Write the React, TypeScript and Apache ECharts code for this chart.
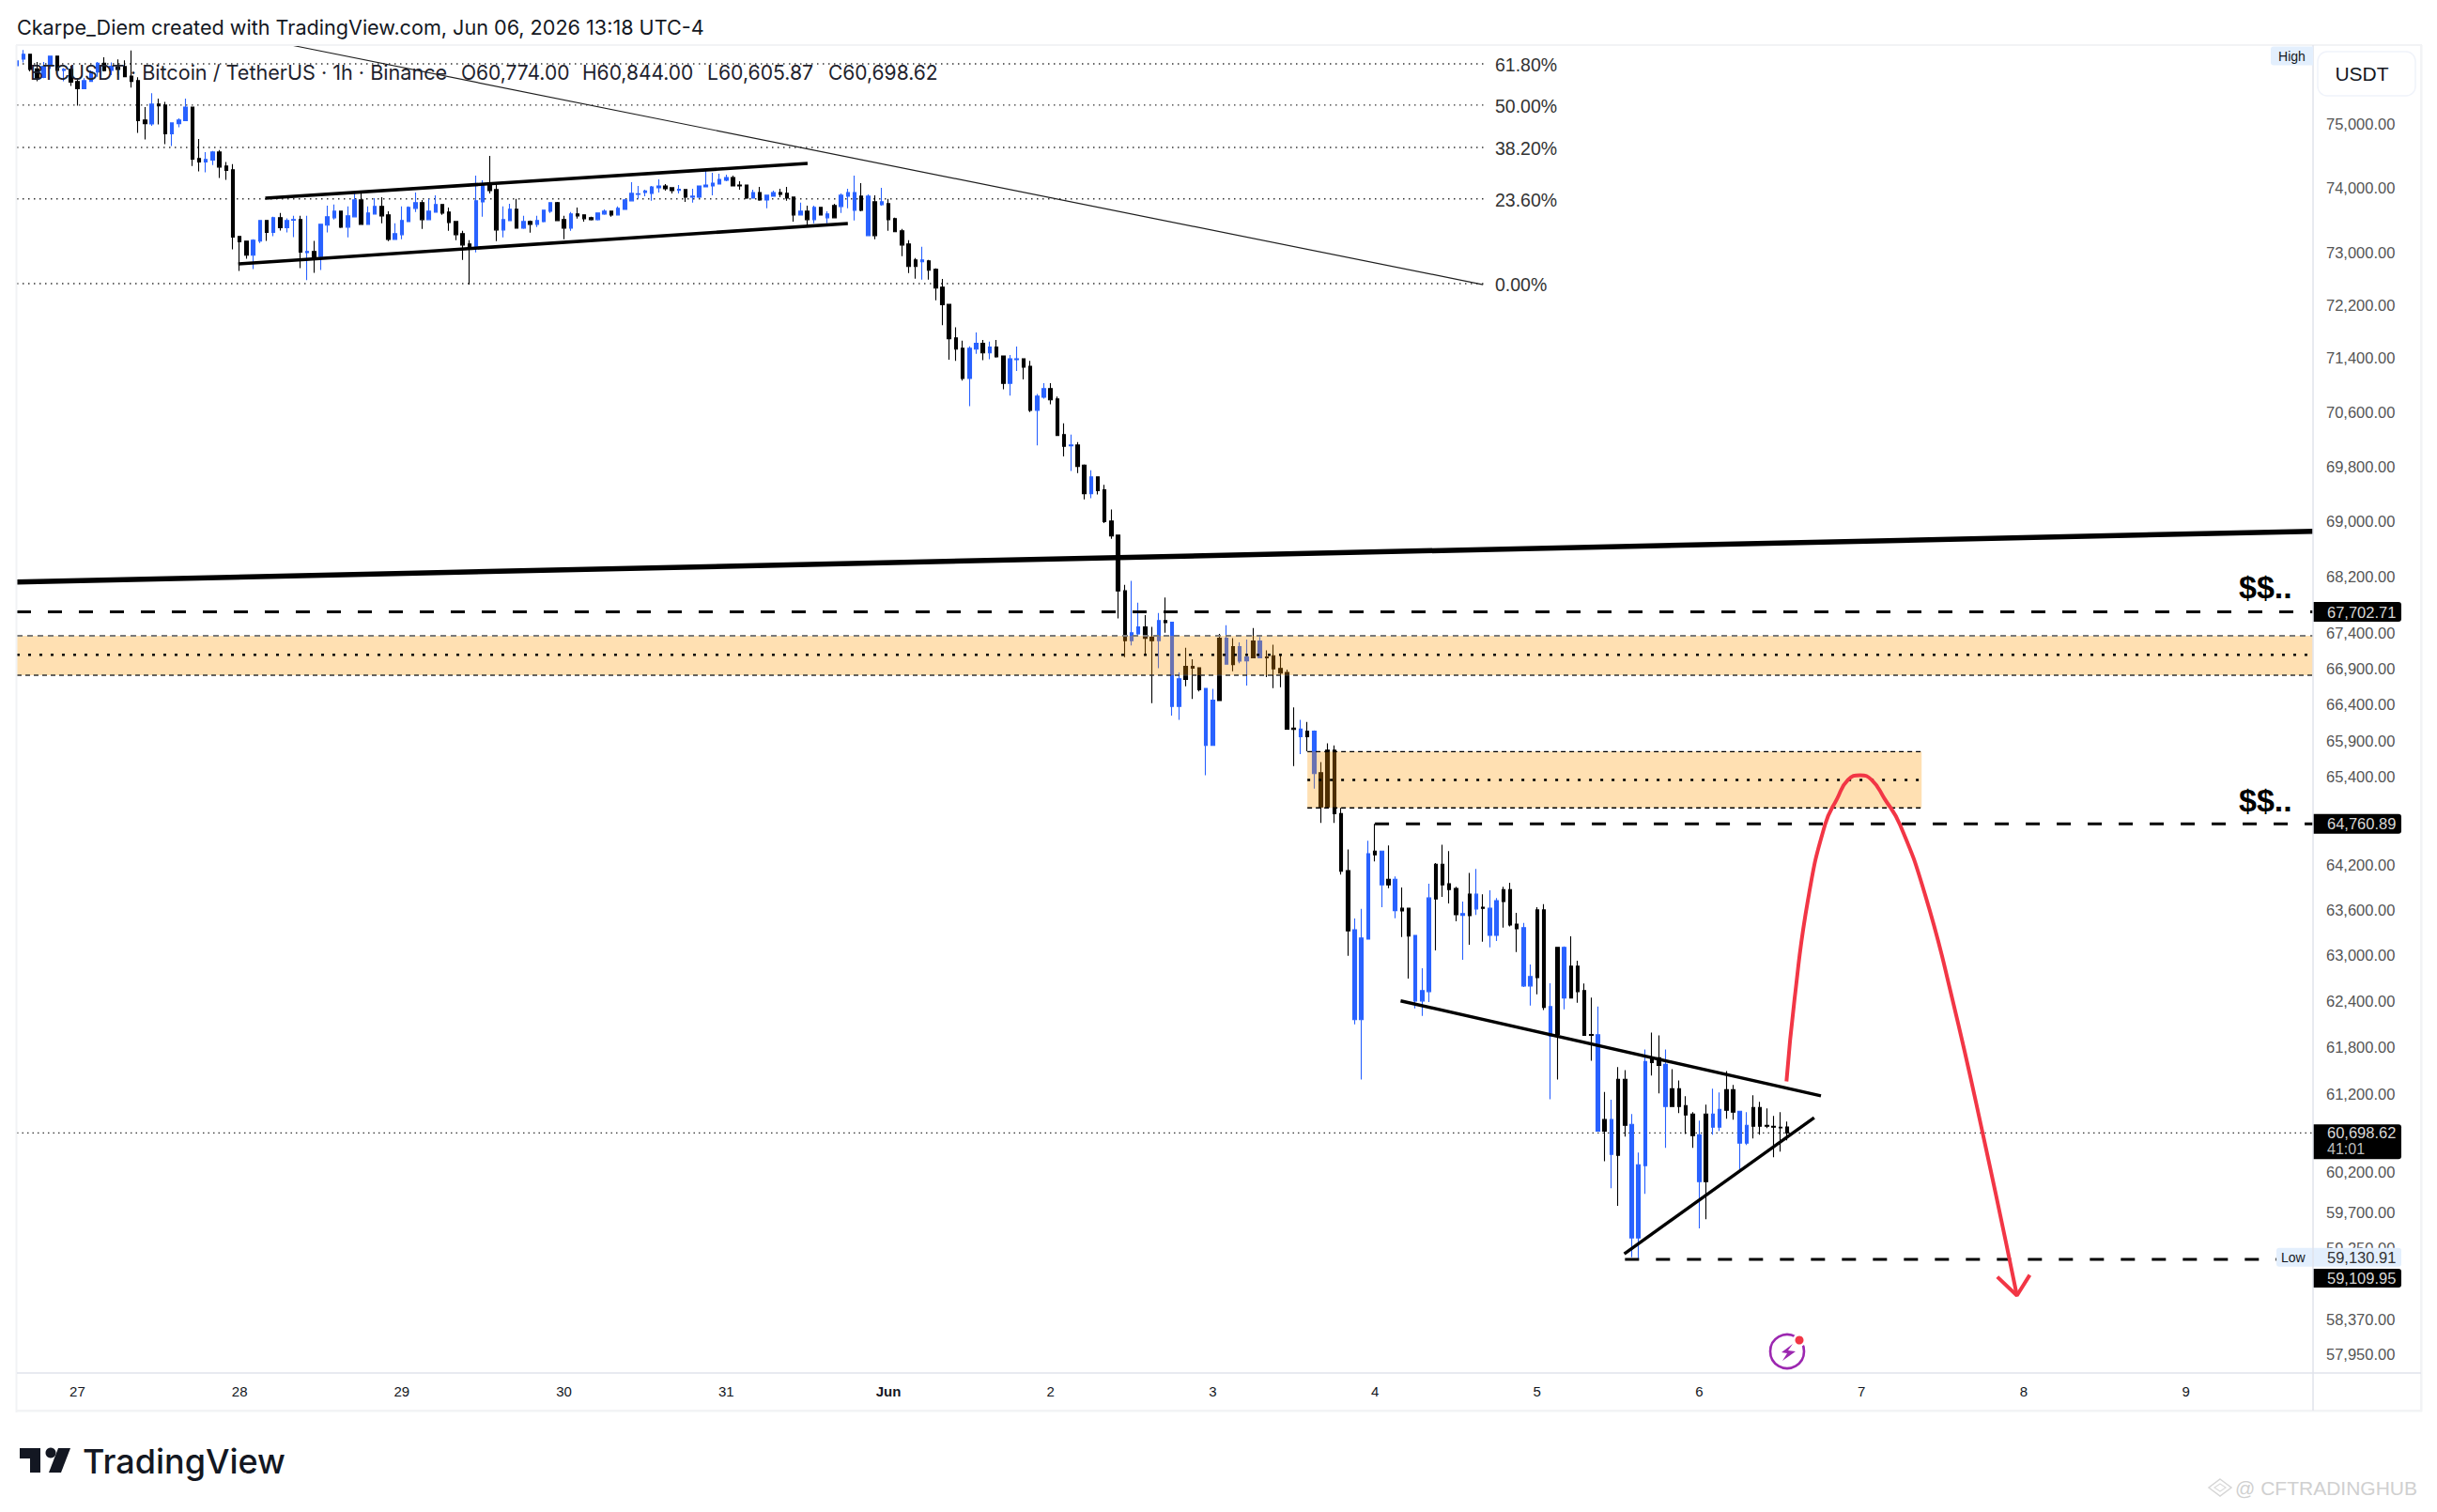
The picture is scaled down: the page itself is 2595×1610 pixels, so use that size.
import React, { useEffect, useRef } from "react";
import * as echarts from "echarts";

// ---------- candle data (USDT, hourly) ----------
const directions =
  "BBKKBBKBKKBBBKBKKKKKBKKBBBKKBBKKKKKBBKBKBBKBK" +
  "BBBKBBKBBKKBBBBKBBKKKKKBBKKBBKBKBBBKKBKKKBBKBBBB" +
  "BBBKKBKBBBBBBKKKBKBBKKKBKBKBKBBBKBKBKKKKKBKK" +
  "KKKKBBKBKKBBKKBBKKKBKKBKKKKKBBKKBKBBKKKBBKBKBBKBKKKKKBKBKK" +
  "KKKBBBKBKBKKBBBKKKKBKBKBBKKKBBKKBKBKKKKBK" +
  "BKKBBBKKBKKKKBKBBKKBBKKKK"
    .replace(/\s/g, "");

const highs = [
  76025,76164,76095,75975,75975,76075,76075,75875,75915,75716,
  75716,75840,75975,76050,75965,76015,76000,76155,75730,75260,
  75478,75394,75340,75009,75083,75394,75260,74758,74553,74568,
  74583,74397,74363,73245,73173,73202,73500,73491,73549,73607,
  73525,73563,73563,73563,73178,73432,73721,73736,73634,73707,
  73910,73924,73707,73837,73852,73634,73447,73707,73707,73924,
  73808,73823,73881,73736,73692,73475,73331,73187,74186,74113,
  74493,74069,73707,73750,73823,73562,73490,73562,73649,73765,
  73779,73562,73620,73692,73577,73548,73606,73663,73634,73707,
  73823,74083,74025,73968,74025,74127,74055,73997,74040,73968,
  73982,74025,74258,74229,74215,74200,74186,74098,74040,73968,
  74011,73881,73953,73982,74011,73852,73765,73721,73721,73692,
  73634,73750,73910,73982,74186,74069,73895,73881,73997,73823,
  73533,73360,73187,72914,73086,72886,72757,72598,72211,71863,
  71662,71580,71788,71674,71649,71674,71435,71447,71574,71391,
  71360,70867,71029,71029,70829,70432,70266,70155,69829,69744,
  69645,69529,69170,68807,68086,68146,67835,67657,67491,67686,
  67907,67556,66849,67195,67035,66916,66625,66619,67390,67515,
  67330,67272,67313,67473,67348,67160,67237,67112,66890,66362,
  66188,66159,66042,65603,65863,65834,64978,64415,63490,63616,
  64532,64760.89,64392,64469,64050,63902,63634,63264,62831,63952,
  64230,64478,64392,63911,63714,64099,64153,63813,63866,63763,
  63911,63965,63563,63429,62880,63638,63679,62633,63105,63118,
  63251,62928,62629,62445,62327,61223,61124,61541,61504,60939,
  60449,61771,61990,61953,61771,61516,61371,61167,60963,60855,
  61059,61263,61215,61490,61311,60975,60963,61179,61095,61011,
  60915,60963,60844,
];
const bodyTops = [
  75990,76095,76095,75865,75905,76065,76065,75855,75855,75662,
  75676,75815,75955,75955,75905,75890,75900,75750,75676,75054,
  75305,75305,75290,75009,75054,75260,75260,74451,74436,74553,
  74553,74334,74275,73245,73173,73188,73491,73491,73534,73534,
  73491,73505,73505,73015,73015,73432,73548,73634,73634,73562,
  73808,73808,73606,73707,73707,73577,73288,73490,73692,73765,
  73765,73634,73736,73736,73620,73475,73288,73129,73794,74040,
  74040,73968,73504,73663,73663,73475,73475,73490,73649,73765,
  73765,73504,73591,73591,73577,73533,73606,73634,73634,73678,
  73808,73910,73905,73949,74011,74025,74025,73997,73973,73968,
  73866,74025,74040,74069,74127,74156,74156,74040,74040,73924,
  73924,73881,73924,73924,73910,73852,73634,73634,73692,73692,
  73591,73721,73881,73924,73924,73866,73866,73779,73779,73750,
  73519,73331,73129,72886,72886,72871,72743,72472,72211,71706,
  71548,71548,71624,71624,71567,71567,71435,71391,71391,71391,
  71279,70836,70948,70948,70792,70266,70112,70112,69817,69645,
  69645,69456,69006,68801,68002,67408,67491,67491,67343,67580,
  67580,67556,66760,66934,66934,66916,66625,66460,67330,67330,
  67213,67213,67065,67290,67290,67065,67083,66905,66849,66072,
  66060,66030,66030,65459,65770,65770,64900,64130,63340,63229,
  64356,64392,64392,64014,64014,63625,63625,63264,62537,63763,
  64216,64216,63952,63889,63554,63813,63813,63638,63625,63728,
  63875,63875,63415,63366,62721,63603,63603,62327,63105,63105,
  62858,62858,62537,61965,61961,60869,60869,61384,61384,60807,
  60295,61613,61650,61662,61577,61263,61263,61047,60939,60676,
  60939,60939,60999,61251,61251,60975,60795,61023,61023,60795,
  60784,60772,60774,
];
const bodyBottoms = [
  75915,76020,75855,75716,75726,75915,75840,75840,75652,75548,
  75548,75666,75815,75835,75840,75855,75740,75666,75044,74999,
  74994,75280,74837,74837,74999,75044,74441,74397,74397,74426,
  74319,74265,73236,73164,72957,72957,73173,73308,73308,73380,
  73380,73496,73005,73000,72890,72938,73418,73533,73389,73389,
  73548,73432,73432,73591,73562,73201,73201,73273,73475,73678,
  73504,73504,73620,73606,73461,73273,73115,73058,73082,73779,
  73953,73345,73345,73490,73374,73374,73432,73432,73475,73634,
  73490,73374,73374,73562,73519,73504,73504,73591,73577,73577,
  73663,73794,73895,73924,73910,73997,73982,73953,73958,73852,
  73852,73852,74011,74025,74055,74113,74025,74025,73837,73837,
  73808,73808,73866,73895,73837,73577,73577,73504,73504,73577,
  73533,73533,73707,73866,73649,73649,73259,73259,73736,73504,
  73317,73115,72785,72785,72857,72729,72458,72205,71693,71535,
  71098,71098,71535,71479,71479,71422,71023,71023,71379,71266,
  70625,70625,70817,70780,70254,70093,70100,69799,69402,69402,
  69444,68994,68789,68002,67295,67295,67390,67330,67295,67295,
  67550,66374,66374,66753,66910,66607,65834,65834,66455,66965,
  66960,67007,67013,67054,67054,67054,66900,66840,66060,66054,
  65955,65955,65447,64990,64990,64898,64121,63326,62157,62157,
  63216,64342,63938,63938,63594,63589,63255,62401,62401,62524,
  63750,63938,63875,63540,63531,63527,63616,63625,63264,63264,
  63714,63402,63353,62598,62598,62707,62318,61944,61965,62440,
  62440,62524,61952,61952,60723,60723,60426,60414,60795,59378,
  59378,60284,61601,61565,61035,61035,61035,60927,60664,60082,
  60082,60772,60772,60987,60963,60569,60569,60784,60784,60784,
  60772,60764,60698.62,
];
const lows = [
  75815,75965,75825,75666,75716,75865,75790,75666,75592,75280,
  75548,75666,75740,75825,75765,75765,75730,75567,74852,74749,
  74965,74985,74675,74646,74940,75044,74334,74251,74236,74348,
  74149,74120,73048,72719,72905,72748,73145,73178,73250,73337,
  73308,73236,72762,72577,72690,72733,73307,73504,73374,73230,
  73548,73432,73432,73591,73447,73172,73201,73201,73475,73620,
  73360,73504,73620,73577,73331,73187,72886,72510,73000,73548,
  73910,73172,73230,73490,73374,73360,73302,73389,73461,73606,
  73490,73201,73331,73519,73475,73490,73490,73577,73548,73577,
  73663,73794,73823,73866,73794,73924,73953,73910,73910,73779,
  73765,73837,74011,73881,74055,74098,74025,73968,73823,73837,
  73794,73678,73866,73852,73794,73475,73577,73418,73447,73577,
  73447,73533,73606,73678,73490,73634,73259,73201,73721,73331,
  73317,72943,72686,72600,72586,72586,72273,71895,71379,71360,
  71067,70687,71466,71372,71385,71410,70936,70842,71210,71085,
  70600,70106,70798,70712,70254,69946,69731,69701,69317,69335,
  69389,68976,68747,67609,67065,67230,67360,67112,66420,66907,
  67408,66246,66188,66654,66478,66583,65425,65834,66455,66965,
  66865,66978,66665,67054,67054,66783,66630,66642,66060,65551,
  65713,65753,65242,64773,64967,64773,64077,62995,62096,61382,
  63216,64252,63638,63893,63492,63242,62695,62305,62205,62388,
  63065,63777,63688,63451,62941,63140,63536,63180,63105,63189,
  63366,63384,63043,62585,62340,62489,62283,61128,61382,62292,
  62440,62379,61952,61623,60723,60341,60000,59777,60652,59137,
  59109.95,59929,61432,61203,60509,61035,60951,60684,60509,59495,
  59612,60676,60724,60879,60867,60236,60545,60628,60676,60760,
  60390,60461,60605.87,
];

// ---------- axes ----------
const dayLabels = ["27","28","29","30","31","Jun","2","3","4","5","6","7","8","9"];
const firstDayBar = 9;
const barSlots = 341;
const priceMin = 57720;
const priceMax = 76243;
const priceTicks = [
  75000,74000,73000,72200,71400,70600,69800,69000,68200,67400,66900,66400,65900,65400,
  64200,63600,63000,62400,61800,61200,60200,59700,59250,58370,57950,
];

// ---------- annotations: [bar position, price] ----------
const paneStart = 0.04;
const paneEnd = 339.8;
const fibLevels = [75943, 75290, 74625, 73825, 72525];
const fibNames = ["61.80%", "50.00%", "38.20%", "23.60%", "0.00%"];
const fibDiagonal = [[40.6, 76243], [217.0, 72510]];
const channelUpper = [[36.8, 73836], [117.05, 74376]];
const channelLower = [[32.8, 72825], [123.0, 73444]];
const heavyTrend = [[paneStart, 68129], [paneEnd, 68857]];
const triangleUpper = [[204.8, 62402], [267.0, 61173]];
const triangleLower = [[237.9, 59180], [266.0, 60894]];
const levelHigh = 67702.71;
const levelMid = 64760.89;
const levelLow = 59109.95;
const lastPrice = 60698.62;
const lowLabelPrice = 59130.91;
const zoneUpper = { from: paneStart, to: paneEnd, top: 67366, mid: 67095, bottom: 66811 };
const zoneLower = { from: 191.0, to: 281.9, top: 65749, mid: 65361, bottom: 64978 };
const forecastCurve = [
  [261.9, 61358],[263.1, 62430],[265.1, 63747],[267.6, 64748],[269.4, 65105],[271.0, 65361],
  [272.8, 65425],[274.5, 65361],[276.4, 65105],[278.7, 64748],[282.4, 63810],[286.4, 62443],
  [291.2, 60590],[296.0, 58665],
];
const forecastArrow = [[293.1, 58895], [296.0, 58665], [297.9, 58918]];

const SANS = '"Liberation Sans", Arial, sans-serif';
const UI = 'Inter, "Liberation Sans", sans-serif';
const BLUE = "#2962FF";
const fmt = (v: number) =>
  v.toLocaleString("en-US", { minimumFractionDigits: 2, maximumFractionDigits: 2 });

const line = (name: string, data: number[][], color: string, width: number, type: any = "solid", z = 6, extra: any = {}) => ({
  type: "line", name, xAxisIndex: 1, yAxisIndex: 0, data, symbol: "none", silent: true, z,
  lineStyle: { color, width, type, cap: "butt" }, ...extra,
});
const level = (name: string, from: number, to: number, price: number, color: string, width: number, type: any, z = 6) =>
  line(name, [[from, price], [to, price]], color, width, type, z);

const textSeries = (name: string, data: number[][], z: number, draw: (p: number, y: number, i: number) => any) => ({
  type: "custom", name, xAxisIndex: 1, yAxisIndex: 0, data, silent: true, z, clip: false,
  renderItem: (params: any, api: any) => {
    const p = api.value(1);
    const y = api.coord([0, p])[1];
    return draw(p, y, params.dataIndex);
  },
});

const buildOption = () => {
  const candles = highs.map((h, i) => {
    const up = directions[i] === "B";
    return [up ? bodyBottoms[i] : bodyTops[i], up ? bodyTops[i] : bodyBottoms[i], lows[i], h];
  });
  const hourNames = Array.from({ length: barSlots }, (_, i) => `h${i}`);
  const zones = [zoneUpper, zoneLower];

  return {
    animation: false,
    backgroundColor: "#ffffff",
    grid: { left: 14.1, top: 48, width: 2453.8, height: 1414 },
    xAxis: [
      {
        type: "category", data: hourNames, boundaryGap: true,
        axisLine: { show: false }, axisTick: { show: false }, splitLine: { show: false },
        axisLabel: {
          interval: (i: number) => i >= firstDayBar && (i - firstDayBar) % 24 === 0,
          margin: 12,
          color: "#131722", fontFamily: SANS, fontSize: 15,
          formatter: (_v: string, i: number) => {
            const d = dayLabels[Math.round((i - firstDayBar) / 24)] ?? "";
            return d === "Jun" ? `{b|${d}}` : d;
          },
          rich: { b: { fontWeight: "bold", fontSize: 15, fontFamily: SANS, color: "#131722" } },
        },
      },
      { type: "value", min: -0.5, max: barSlots - 0.5, show: false, splitLine: { show: false } },
    ],
    yAxis: [
      { type: "log", logBase: 10, min: priceMin, max: priceMax, show: false, splitLine: { show: false } },
    ],
    series: [
      {
        type: "candlestick", name: "BTCUSDT", xAxisIndex: 0, yAxisIndex: 0, data: candles, barWidth: 4,
        silent: true, z: 2,
        itemStyle: { color: BLUE, color0: "#000000", borderColor: BLUE, borderColor0: "#000000", borderWidth: 1.1 },
      },
      // zones drawn over the candles with translucency
      {
        type: "custom", name: "zones", xAxisIndex: 1, yAxisIndex: 0, silent: true, z: 3,
        data: zones.map((z) => [z.from, z.top, z.to, z.bottom]),
        renderItem: (_p: any, api: any) => {
          const a = api.coord([api.value(0), api.value(1)]);
          const b = api.coord([api.value(2), api.value(3)]);
          return {
            type: "rect",
            shape: { x: a[0], y: a[1], width: b[0] - a[0], height: b[1] - a[1] },
            style: { fill: "rgba(255,152,0,0.3)" },
          };
        },
      },
      level("zone A top", zoneUpper.from, zoneUpper.to, zoneUpper.top, "#7a7a7a", 2, [6, 5], 4),
      level("zone A mid", zoneUpper.from, zoneUpper.to, zoneUpper.mid, "#000000", 2.5, [3, 9], 4),
      level("zone A bottom", zoneUpper.from, zoneUpper.to, zoneUpper.bottom, "#333333", 1.5, [5, 4], 4),
      level("zone B top", zoneLower.from, zoneLower.to, zoneLower.top, "#000000", 1.3, [5, 4], 4),
      level("zone B mid", zoneLower.from, zoneLower.to, zoneLower.mid, "#000000", 2.5, [3, 9], 4),
      level("zone B bottom", zoneLower.from, zoneLower.to, zoneLower.bottom, "#000000", 1.3, [5, 4], 4),
      ...fibLevels.map((p, i) => level(`fib ${fibNames[i]}`, paneStart, 217.2, p, "#333333", 1.4, [1.5, 4.5], 1)),
      line("fib diagonal", fibDiagonal, "#1e1e1e", 1.2),
      line("channel upper", channelUpper, "#000000", 3.6),
      line("channel lower", channelLower, "#000000", 3.6),
      line("heavy trend", heavyTrend, "#000000", 5.5),
      line("triangle upper", triangleUpper, "#000000", 3.4),
      line("triangle lower", triangleLower, "#000000", 3.4),
      level("level 67702", paneStart, paneEnd, levelHigh, "#000000", 3, [15, 18]),
      level("level 64760", 201.0, paneEnd, levelMid, "#000000", 3, [15, 18]),
      level("level 59109", 238.0, paneEnd, levelLow, "#000000", 3, [15, 18]),
      level("last price", paneStart, paneEnd, lastPrice, "#333333", 1.4, [1.5, 4], 1),
      line("forecast curve", forecastCurve, "#F23645", 4, "solid", 7, { smooth: 0.5 }),
      line("forecast arrow", forecastArrow, "#F23645", 4, "solid", 7),
      textSeries("fib labels", fibLevels.map((p) => [0, p]), 8, (_p, y, i) => ({
        type: "text", x: 1592, y: y + 1,
        style: { text: fibNames[i], fill: "#333333", fontFamily: SANS, fontSize: 19.5, align: "left", verticalAlign: "middle" },
      })),
      textSeries("price ticks", priceTicks.map((p) => [0, p]), 9, (p, y) => ({
        type: "text", x: 2477, y,
        style: { text: fmt(p), fill: "#555555", fontFamily: SANS, fontSize: 16.5, align: "left", verticalAlign: "middle" },
      })),
      textSeries("price tags", [levelHigh, levelMid].map((p) => [0, p]), 10, (p, y) => ({
        type: "group",
        children: [
          { type: "rect", shape: { x: 2463, y: y - 10.5, width: 94, height: 21, r: [0, 3, 3, 0] }, style: { fill: "#000000" } },
          { type: "text", x: 2478, y, style: { text: fmt(p), fill: "#d8d8d8", fontFamily: SANS, fontSize: 16.5, align: "left", verticalAlign: "middle" } },
        ],
      })),
      textSeries("low price", [[0, lowLabelPrice]], 10, (p, y) => ({
        type: "group",
        children: [
          { type: "rect", shape: { x: 2424, y: y - 10.5, width: 133, height: 20, r: 3 }, style: { fill: "#E3EFFD" } },
          { type: "text", x: 2429, y: y - 0.5, style: { text: "Low", fill: "#131722", fontFamily: SANS, fontSize: 14, align: "left", verticalAlign: "middle" } },
          { type: "text", x: 2478, y: y - 0.5, style: { text: fmt(p), fill: "#333333", fontFamily: SANS, fontSize: 16.5, align: "left", verticalAlign: "middle" } },
        ],
      })),
      textSeries("low tag", [[0, levelLow]], 11, (p, y) => ({
        type: "group",
        children: [
          { type: "rect", shape: { x: 2463, y: y + 10, width: 94, height: 20, r: [0, 3, 3, 0] }, style: { fill: "#000000" } },
          { type: "text", x: 2478, y: y + 19.5, style: { text: fmt(p), fill: "#d8d8d8", fontFamily: SANS, fontSize: 16.5, align: "left", verticalAlign: "middle" } },
        ],
      })),
      textSeries("last tag", [[0, lastPrice]], 11, (p, y) => ({
        type: "group",
        children: [
          { type: "rect", shape: { x: 2463, y: y - 9, width: 94, height: 37, r: [0, 3, 3, 0] }, style: { fill: "#000000" } },
          { type: "text", x: 2478, y, style: { text: fmt(p), fill: "#d8d8d8", fontFamily: SANS, fontSize: 16.5, align: "left", verticalAlign: "middle" } },
          { type: "text", x: 2478, y: y + 17, style: { text: "41:01", fill: "#bdbdbd", fontFamily: SANS, fontSize: 16, align: "left", verticalAlign: "middle" } },
        ],
      })),
    ],
    graphic: [
      // pane frame
      { type: "rect", z: 20, shape: { x: 0, y: 48, width: 17, height: 1456 }, style: { fill: "#ffffff" } },
      { type: "rect", z: 20, shape: { x: 16.5, y: 48, width: 2, height: 1456 }, style: { fill: "#F2F3F5" } },
      { type: "rect", z: 20, shape: { x: 17, y: 47, width: 2562, height: 2 }, style: { fill: "#F2F3F5" } },
      { type: "rect", z: 20, shape: { x: 17, y: 1501, width: 2562, height: 2.5 }, style: { fill: "#F2F3F5" } },
      { type: "rect", z: 20, shape: { x: 2577, y: 48, width: 2.5, height: 1455 }, style: { fill: "#F2F3F5" } },
      { type: "line", z: 20, shape: { x1: 2463, y1: 48, x2: 2463, y2: 1502 }, style: { stroke: "#E0E3EB", lineWidth: 1.5 } },
      { type: "line", z: 20, shape: { x1: 18, y1: 1462, x2: 2578, y2: 1462 }, style: { stroke: "#E0E3EB", lineWidth: 1.5 } },
      // header
      { type: "text", z: 21, x: 18, y: 29, style: { text: "Ckarpe_Diem created with TradingView.com, Jun 06, 2026 13:18 UTC-4", fill: "#131722", font: `21.6px ${UI}`, textVerticalAlign: "middle" } },
      // legend
      { type: "text", z: 21, x: 32, y: 77, style: { text: "BTCUSDT · Bitcoin / TetherUS · 1h · Binance", fill: "#1e222d", font: `21.6px ${UI}`, textVerticalAlign: "middle" } },
      { type: "text", z: 21, x: 491, y: 77, style: { text: "O60,774.00", fill: "#1e222d", font: `21px ${UI}`, textVerticalAlign: "middle" } },
      { type: "text", z: 21, x: 620, y: 77, style: { text: "H60,844.00", fill: "#1e222d", font: `21px ${UI}`, textVerticalAlign: "middle" } },
      { type: "text", z: 21, x: 753, y: 77, style: { text: "L60,605.87", fill: "#1e222d", font: `21.2px ${UI}`, textVerticalAlign: "middle" } },
      { type: "text", z: 21, x: 882, y: 77, style: { text: "C60,698.62", fill: "#1e222d", font: `21px ${UI}`, textVerticalAlign: "middle" } },
      // High tag + currency button
      { type: "rect", z: 21, shape: { x: 2418, y: 49.5, width: 45, height: 20, r: [3, 0, 0, 3] }, style: { fill: "#E3EFFD" } },
      { type: "text", z: 22, x: 2440.5, y: 59.5, style: { text: "High", fill: "#131722", font: `14px ${SANS}`, textAlign: "center", textVerticalAlign: "middle" } },
      { type: "rect", z: 21, shape: { x: 2468, y: 55, width: 104, height: 47, r: 10 }, style: { fill: "#ffffff", stroke: "#F0F3FA", lineWidth: 1.5 } },
      { type: "text", z: 22, x: 2515, y: 78, style: { text: "USDT", fill: "#131722", font: `21px ${SANS}`, textAlign: "center", textVerticalAlign: "middle" } },
      // $$ marks
      { type: "text", z: 21, x: 2384, y: 625, style: { text: "$$..", fill: "#000000", font: `bold 34px ${SANS}`, textVerticalAlign: "middle" } },
      { type: "text", z: 21, x: 2384, y: 852, style: { text: "$$..", fill: "#000000", font: `bold 34px ${SANS}`, textVerticalAlign: "middle" } },
      // bolt icon
      { type: "circle", z: 21, shape: { cx: 1903, cy: 1439, r: 18 }, style: { fill: "#ffffff", stroke: "#9C27B0", lineWidth: 2.6 } },
      { type: "polygon", z: 22, shape: { points: [[1909, 1431], [1897, 1440], [1903, 1441], [1898, 1449], [1912, 1439], [1904, 1438]] }, style: { fill: "#9C27B0" } },
      { type: "circle", z: 22, shape: { cx: 1916, cy: 1427, r: 7 }, style: { fill: "#ffffff" } },
      { type: "circle", z: 23, shape: { cx: 1916, cy: 1427, r: 4.5 }, style: { fill: "#F23645" } },
      // TradingView logo
      { type: "polygon", z: 21, shape: { points: [[21, 1542], [43, 1542], [43, 1568], [32, 1568], [32, 1553], [21, 1553]] }, style: { fill: "#131722" } },
      { type: "circle", z: 21, shape: { cx: 54, cy: 1547, r: 5.5 }, style: { fill: "#131722" } },
      { type: "polygon", z: 21, shape: { points: [[62, 1542], [75, 1542], [65, 1568], [52, 1568]] }, style: { fill: "#131722" } },
      { type: "text", z: 21, x: 88, y: 1556, style: { text: "TradingView", fill: "#131722", font: `500 36px ${UI}`, textVerticalAlign: "middle" } },
      // watermark
      { type: "polygon", z: 21, shape: { points: [[2364, 1575], [2376, 1584], [2364, 1593], [2352, 1584]] }, style: { fill: "none", stroke: "#d6d6d6", lineWidth: 1.5 } },
      { type: "polygon", z: 21, shape: { points: [[2364, 1580], [2370, 1584], [2364, 1588], [2358, 1584]] }, style: { fill: "none", stroke: "#dcdcdc", lineWidth: 1.2 } },
      { type: "text", z: 21, x: 2380, y: 1584, style: { text: "@ CFTRADINGHUB", fill: "#d0d0d0", font: `21px ${SANS}`, textVerticalAlign: "middle" } },
    ],
  };
};

export default function App() {
  const ref = useRef<HTMLDivElement>(null);
  useEffect(() => {
    document.body.style.margin = "0";
    const chart = echarts.init(ref.current!, undefined, { renderer: "svg" });
    chart.setOption(buildOption() as any);
    return () => chart.dispose();
  }, []);
  return <div ref={ref} style={{ width: 2595, height: 1610, background: "#fff" }} />;
}
